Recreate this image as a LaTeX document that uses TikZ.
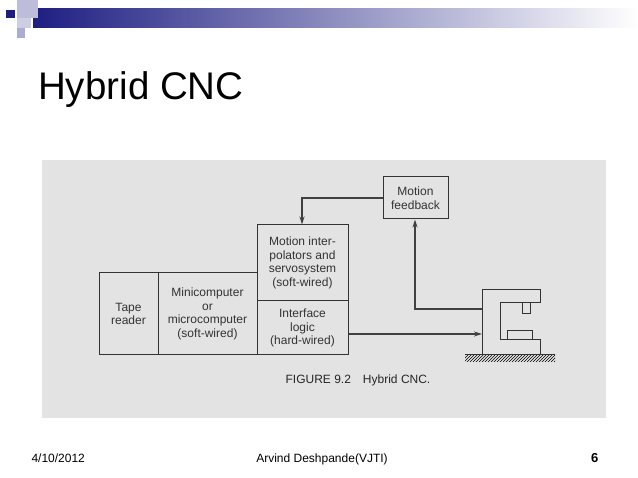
\documentclass[tikz,border=0pt]{standalone}
\usepackage{fontspec}
\setmainfont{Liberation Sans}
\usetikzlibrary{patterns,arrows.meta}
\definecolor{hdrblue}{RGB}{30,30,130}
\begin{document}
\begin{tikzpicture}[x=1pt,y=-1pt,
  blk/.style={draw=black!80,line width=1pt,fill=none,align=center,font=\fontsize{12}{13.5}\selectfont,text=black!80,inner sep=0pt},
  conn/.style={draw=black!75,line width=1.3pt,-{Stealth[length=8pt,width=5pt,open]}},
  mach/.style={draw=black!80,line width=1pt}]
\useasboundingbox (0,0) rectangle (638,478);
\fill[white] (0,0) rectangle (638,478);
% header
\shade[left color=hdrblue,right color=white] (33,9) rectangle (638,28);
\fill[hdrblue] (6,10) rectangle (15,18);
\fill[blue!30!gray!40] (17,0) rectangle (38,18);
\fill[blue!30!gray!30] (17,18) rectangle (31,28);
\fill[blue!30!gray!50] (17,28) rectangle (25,38);
\node[anchor=base west,font=\fontsize{38.5}{40}\selectfont,inner sep=0pt] (title) at (38,100) {Hybrid CNC};
% photo background
\fill[black!11] (42,160) rectangle (606,418);
% blocks
\node[blk,minimum width=59,minimum height=82] (tape) at (128.5,314) {Tape\\reader};
\node[blk,minimum width=99,minimum height=82] (mini) at (207.5,314) {Minicomputer\\or\\microcomputer\\(soft-wired)};
\node[blk,minimum width=91,minimum height=76] (interp) at (302.5,263) {Motion inter-\\polators and\\servosystem\\(soft-wired)};
\node[blk,minimum width=91,minimum height=54] (iface) at (302.5,328) {Interface\\logic\\(hard-wired)};
\node[blk,minimum width=65,minimum height=42] (fb) at (415.5,198) {Motion\\feedback};
% machine
\coordinate (mleft) at (482,309);
\coordinate (mtop) at (415,309);
\coordinate (min) at (482,334);
\coordinate (bend) at (302,198);
\draw[mach] (482,290) -- (540,290) -- (540,303) -- (500,303) -- (500,340) -- (540,340) -- (540,355) -- (482,355) -- cycle;
\draw[mach] (522,303) rectangle (530,314);
\draw[mach] (507,331) rectangle (532,340);
\fill[pattern=north east lines] (465,355) rectangle (555,362);
\draw[mach] (465,355) -- (555,355);
% connectors
\draw[conn] (mleft) -- (mtop) -- (mtop |- fb.south);
\draw[conn] (fb.west) -- (bend) -- (bend |- interp.north);
\draw[conn] (iface.east |- min) -- (min);
% caption
\node[font=\fontsize{12}{13}\selectfont,text=black!85] (cap) at (358,380) {FIGURE 9.2\quad Hybrid CNC.};
% footer
\node[anchor=base west,font=\fontsize{12}{14}\selectfont] (date) at (28,463) {4/10/2012};
\node[anchor=base,font=\fontsize{12}{14}\selectfont] (auth) at (322,463) {Arvind Deshpande(VJTI)};
\node[anchor=base east,font=\bfseries\fontsize{13}{14}\selectfont] (pg) at (602,463) {6};
\end{tikzpicture}
\end{document}
